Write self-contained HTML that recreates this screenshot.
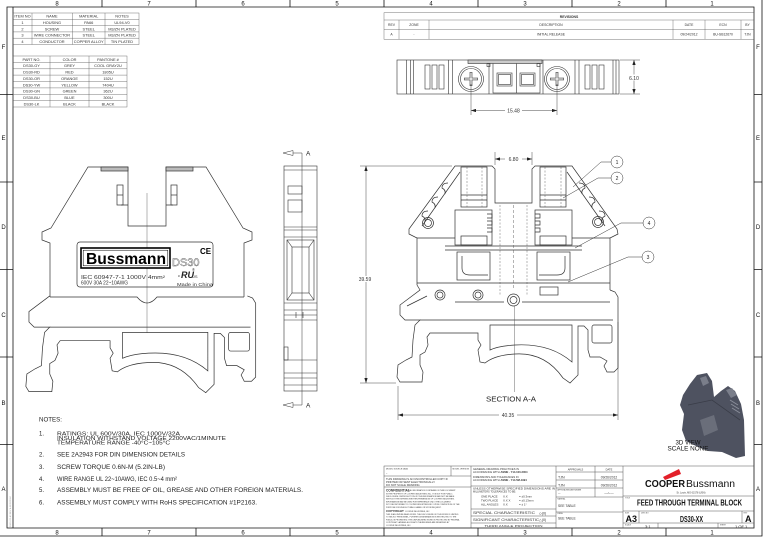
<!DOCTYPE html>
<html><head><meta charset="utf-8"><style>
html,body{margin:0;padding:0;background:#fff;}
svg{display:block;}
text{font-family:"Liberation Sans",Arial,sans-serif;}
</style></head><body>
<svg width="768" height="543" viewBox="0 0 768 543" xmlns="http://www.w3.org/2000/svg">
<defs>
<marker id="ar" viewBox="0 0 6 4" refX="6" refY="2" markerWidth="5" markerHeight="3.4" markerUnits="userSpaceOnUse" orient="auto-start-reverse"><path d="M0,0 L6,2 L0,4 z" fill="#222"/></marker>
</defs>
<rect width="768" height="543" fill="#fff"/>

<!-- FRAME -->
<g stroke="#111" stroke-width="0.8" fill="none">
<path d="M7,7 H754 V528 H7 Z"/>
<path d="M13,7 V528"/>
<path d="M762,0 V536 H0"/>
<path d="M102,0V7 M196,0V7 M290,0V7 M384,0V7 M478,0V7 M572,0V7 M666,0V7"/>
<path d="M102,528V536 M196,528V536 M290,528V536 M384,528V536 M478,528V536 M572,528V536 M666,528V536"/>
<path d="M0,94.5H13 M0,182H13 M0,269.5H13 M0,357H13 M0,444.5H13"/>
<path d="M754,94.5H762 M754,182H762 M754,269.5H762 M754,357H762 M754,444.5H762"/>
</g>
<g font-size="6" fill="#111" text-anchor="middle">
<text x="57" y="5.5">8</text><text x="149" y="5.5">7</text><text x="243" y="5.5">6</text><text x="337" y="5.5">5</text><text x="431" y="5.5">4</text><text x="525" y="5.5">3</text><text x="619" y="5.5">2</text><text x="712" y="5.5">1</text>
<text x="57" y="534.5">8</text><text x="149" y="534.5">7</text><text x="243" y="534.5">6</text><text x="337" y="534.5">5</text><text x="431" y="534.5">4</text><text x="525" y="534.5">3</text><text x="619" y="534.5">2</text><text x="712" y="534.5">1</text>
<text x="3.5" y="49">F</text><text x="3.5" y="140">E</text><text x="3.5" y="229">D</text><text x="3.5" y="317">C</text><text x="3.5" y="405">B</text><text x="3.5" y="491">A</text>
<text x="758" y="49">F</text><text x="758" y="140">E</text><text x="758" y="229">D</text><text x="758" y="317">C</text><text x="758" y="405">B</text><text x="758" y="491">A</text>
</g>
<text x="0" y="0" transform="translate(11,527) rotate(-90)" font-size="2.2" fill="#999">DS30-XX A3 REV A 09/26/2012</text>

<!-- ITEM TABLE -->
<g stroke="#555" stroke-width="0.4" fill="none">
<rect x="13" y="13" width="126" height="31.5"/>
<path d="M13,19.3H139 M13,25.6H139 M13,31.9H139 M13,38.2H139 M32,13V44.5 M72.5,13V44.5 M105,13V44.5"/>
<rect x="13" y="56" width="114" height="51"/>
<path d="M13,62.4H127 M13,68.8H127 M13,75.1H127 M13,81.5H127 M13,87.9H127 M13,94.3H127 M13,100.6H127 M50,56V107 M89,56V107"/>
</g>
<g font-size="3.9" fill="#333" text-anchor="middle">
<text x="22.5" y="17.7">ITEM NO</text><text x="52" y="17.7">NAME</text><text x="88.7" y="17.7">MATERIAL</text><text x="122" y="17.7">NOTES</text>
<text x="22.5" y="24">1</text><text x="52" y="24">HOUSING</text><text x="88.7" y="24">PA66</text><text x="122" y="24">UL94-V0</text>
<text x="22.5" y="30.3">2</text><text x="52" y="30.3">SCREW</text><text x="88.7" y="30.3">STEEL</text><text x="122" y="30.3">M3/ZN PLATED</text>
<text x="22.5" y="36.6">3</text><text x="52" y="36.6">WIRE CONNECTOR</text><text x="88.7" y="36.6">STEEL</text><text x="122" y="36.6">M3/ZN PLATED</text>
<text x="22.5" y="42.9">4</text><text x="52" y="42.9">CONDUCTOR</text><text x="88.7" y="42.9">COPPER ALLOY</text><text x="122" y="42.9">TIN PLATED</text>
<text x="31.5" y="60.8">PART NO.</text><text x="69.5" y="60.8">COLOR</text><text x="108" y="60.8">PANTONE #</text>
<text x="31.5" y="67.2">DS30-GY</text><text x="69.5" y="67.2">GREY</text><text x="108" y="67.2">COOL GRAY2U</text>
<text x="31.5" y="73.5">DS30-RD</text><text x="69.5" y="73.5">RED</text><text x="108" y="73.5">1805U</text>
<text x="31.5" y="79.9">DS30-OR</text><text x="69.5" y="79.9">ORANGE</text><text x="108" y="79.9">152U</text>
<text x="31.5" y="86.3">DS30-YW</text><text x="69.5" y="86.3">YELLOW</text><text x="108" y="86.3">7404U</text>
<text x="31.5" y="92.7">DS30-GN</text><text x="69.5" y="92.7">GREEN</text><text x="108" y="92.7">362U</text>
<text x="31.5" y="99">DS30-BU</text><text x="69.5" y="99">BLUE</text><text x="108" y="99">300U</text>
<text x="31.5" y="105.4">DS30-LK</text><text x="69.5" y="105.4">BLACK</text><text x="108" y="105.4">BLACK</text>
</g>

<!-- REVISIONS -->
<g stroke="#555" stroke-width="0.4" fill="none">
<rect x="384" y="12.7" width="370" height="26.6"/>
<path d="M384,20H754 M384,29.3H754 M399,20V39.3 M429,20V39.3 M673,20V39.3 M705,20V39.3 M741,20V39.3"/>
</g>
<g font-size="3.4" fill="#333" text-anchor="middle">
<text x="569" y="17.8" font-weight="bold">REVISIONS</text>
<text x="391.5" y="26">REV</text><text x="414" y="26">ZONE</text><text x="551" y="26">DESCRIPTION</text><text x="689" y="26">DATE</text><text x="723" y="26">ECN</text><text x="747.5" y="26">BY</text>
<text x="391.5" y="35.5">A</text><text x="414" y="35.5">-</text><text x="551" y="35.5">INITIAL RELEASE</text><text x="689" y="35.5">09/24/2012</text><text x="723" y="35.5">BU-SB12670</text><text x="747.5" y="35.5">TJN</text>
</g>

<!-- TOP VIEW -->
<g stroke="#333" stroke-width="0.6" fill="none">
<rect x="397" y="60" width="222" height="34"/>
<path d="M406.7,60V94 M410.7,60V94 M413.3,60V94 M448.3,60V94 M452.7,60V94 M489,60V94 M543,60V94 M575,60V94 M579,60V94 M613,60V94 M616,60V94"/>
<rect x="425" y="65" width="5" height="24"/><rect x="432" y="65" width="5" height="24"/><rect x="439" y="65" width="5" height="24"/>
<rect x="585" y="65" width="5" height="24"/><rect x="592" y="65" width="5" height="24"/><rect x="599" y="65" width="5" height="24"/>
<circle cx="471" cy="79" r="12.5"/><circle cx="471" cy="79" r="10.5"/>
<circle cx="557" cy="79" r="12.5"/><circle cx="557" cy="79" r="10.5"/>
<rect x="493" y="63" width="47" height="30" fill="#fff"/>
<path d="M516.5,63V93"/>
<rect x="497" y="73" width="15" height="13"/><rect x="498.5" y="74.5" width="12" height="10"/>
<rect x="520" y="73" width="15" height="13"/><rect x="521.5" y="74.5" width="12" height="10"/>
<rect x="468" y="60" width="74" height="3.5" fill="#ccc"/>
<rect x="487" y="63.5" width="3" height="3"/><rect x="537" y="63.5" width="3" height="3"/>
</g>
<g stroke="#333" stroke-width="2.6"><path d="M464,79H478 M471,72V86 M550,79H564 M557,72V86"/></g>
<g stroke="#fff" stroke-width="1.3"><path d="M464.5,79H477.5 M471,72.5V85.5 M550.5,79H563.5 M557,72.5V85.5"/></g>
<!-- top dims -->
<g stroke="#333" stroke-width="0.45" fill="none">
<path d="M620,60H640 M620,94H640"/>
<path d="M634,60V94" marker-start="url(#ar)" marker-end="url(#ar)"/>
<path d="M471,84V115 M557,84V115"/>
<path d="M471,110.5H557" marker-start="url(#ar)" marker-end="url(#ar)"/>
</g>
<rect x="627" y="74.5" width="14" height="6" fill="#fff"/>
<text x="634" y="79.8" font-size="5" fill="#333" text-anchor="middle">6.10</text>
<rect x="505" y="108" width="17" height="5.5" fill="#fff"/>
<text x="513.5" y="112.5" font-size="5" fill="#333" text-anchor="middle">15.48</text>

<!-- FRONT VIEW (upper) -->
<g stroke="#333" stroke-width="0.7" fill="none">
<path d="M50,297 L50,243 L42,240 L42,232 L51,228 L88,167 L128,167 L128,226 L166,226 L166,167 L206,167 L243,228 L252,232 L252,240 L244,243 L244,297"/>
<path d="M50,297 L137,297 Q147,309 157,297 L244,297"/>
<rect x="101" y="167" width="27" height="4" fill="#bbb"/>
<rect x="166" y="167" width="27" height="4" fill="#bbb"/>
<rect x="117" y="185" width="6" height="20"/><path d="M117,195H123"/>
<rect x="171" y="185" width="6" height="20"/><path d="M171,195H177"/>
<path d="M121,205H128 M166,205H173"/>
<rect x="77" y="242" width="136" height="45" rx="3"/>
</g>
<g transform="translate(-387.04,-5.64) scale(1.04)" stroke="#333" stroke-width="0.68" fill="none">
<path d="M610,290 L615,292 L618,297 L618,368 L614,372 L607,372 L604,366 L607,361 L600,357 L590,357 L588,350 L588,330 L584,326 L578,326 L578,375 L574,379 L570,383 L563,378 Q545,352 515,354 Q495,355 485,363 L480,362 L478,350 L481,345 L478,340 L478,333 L430,333 L427,337 L428,345 L425,352 L420,355 L420,365 L423,372 L422,382 L400,382 L397,377 L398,365 L406,360 L412,357 L413,340 L415,325 L420,320 L405,320 L400,315 L400,305 L420,290"/>
<path d="M490,325 L572,325 L572,362 Q550,343 515,345 Q498,346 490,350 Z"/>
<path d="M420,320 L613,320"/>
<rect x="592" y="325" width="20" height="18" rx="2"/>
</g>
<path d="M147,193V333" stroke="#444" stroke-width="0.4"/>
<rect x="81" y="248" width="89" height="20" fill="#fff" stroke="#000" stroke-width="1.6"/>
<rect x="83.2" y="250.2" width="84.6" height="15.6" fill="none" stroke="#000" stroke-width="0.5"/>
<text x="86" y="264" font-size="16" font-weight="bold" fill="#000" textLength="80" lengthAdjust="spacingAndGlyphs">Bussmann</text>
<text x="172" y="266" font-size="11" fill="#fff" stroke="#555" stroke-width="0.4">DS30</text>
<text x="200" y="254" font-size="8" font-weight="bold" fill="#000">CE</text>
<text x="81" y="279" font-size="5" fill="#333" textLength="84" lengthAdjust="spacingAndGlyphs">IEC 60947-7-1  1000V  4mm²</text>
<text x="81" y="284.5" font-size="5" fill="#333" textLength="47" lengthAdjust="spacingAndGlyphs">600V  30A  22~10AWG</text>
<text x="178" y="277" font-size="4" fill="#333">c</text>
<text x="181" y="278" font-size="9" font-weight="bold" font-style="italic" fill="#222">RU</text>
<text x="192" y="271" font-size="4" fill="#333">®</text>
<text x="192" y="278" font-size="4" fill="#333">US</text>
<text x="177" y="286" font-size="4.3" fill="#333" textLength="36" lengthAdjust="spacingAndGlyphs">Made in China</text>

<!-- SIDE VIEW -->
<g stroke="#333" stroke-width="0.6" fill="none">
<rect x="284" y="166" width="33" height="225"/>
<path d="M284,170H317 M284,227H317 M284,230H317 M284,237H317 M284,303H317 M284,310H317 M284,315H317 M284,320H317 M284,360H317 M284,373H317 M284,378H317 M284,385H317"/>
<rect x="288" y="186" width="14" height="8"/><rect x="288" y="200" width="14" height="12"/>
<rect x="287" y="240" width="27" height="60"/><rect x="292" y="247" width="17" height="46"/>
<path d="M287,240L292,247 M314,240L309,247 M287,300L292,293 M314,300L309,293"/>
<rect x="284" y="347" width="4" height="13"/>
<path d="M296,312V318 M303,312V318"/>
</g>
<g stroke="#333" stroke-width="0.5" fill="#fff">
<path d="M302,153V405" fill="none"/>
<path d="M293,153H302 M293,405H302" fill="none"/>
<polygon points="283,153 293,150.5 293,155.5"/>
<polygon points="283,405 293,402.5 293,407.5"/>
</g>
<text x="306" y="155.5" font-size="6.5" fill="#222">A</text>
<text x="306" y="407.5" font-size="6.5" fill="#222">A</text>

<!-- SECTION A-A -->
<g stroke="#333" stroke-width="0.7" fill="none">
<path d="M417,285 L417,238 L409,234 L409,229 L455,166 L492,166 L495,169 L495,203 L532,203 L532,169 L535,166 L572,166 L617,229 L618,234 L610,238 L610,290"/>
<path d="M610,290 L615,292 L618,297 L618,368 L614,372 L607,372 L604,366 L607,361 L600,357 L590,357 L588,350 L588,330 L584,326 L578,326 L578,375 L574,379 L570,383 L563,378 Q545,352 515,354 Q495,355 485,363 L480,362 L478,350 L481,345 L478,340 L478,333 L430,333 L427,337 L428,345 L425,352 L420,355 L420,365 L423,372 L422,382 L400,382 L397,377 L398,365 L406,360 L412,357 L413,340 L415,325 L420,320 L405,320 L400,315 L400,305 L420,290 L417,285"/>
<path d="M490,325 L572,325 L572,362 Q550,343 515,345 Q498,346 490,350 Z"/>
<path d="M420,320 L613,320 M407,306 L427,296 M455,302 L504,302 M522,302 L610,302 M417,283 L610,283"/>
<rect x="592" y="325" width="20" height="18" rx="2"/>
<path d="M460,172 L422,226 M567,172 L605,226"/>
<path d="M448,183 q-6,0 -6,5 q4,2 3,6 M438,197 q-6,0 -6,5 q4,2 3,6 M428,211 q-6,0 -6,5 q4,2 3,6"/>
<path d="M579,183 q6,0 6,5 q-4,2 -3,6 M589,197 q6,0 6,5 q-4,2 -3,6 M599,211 q6,0 6,5 q-4,2 -3,6"/>
<path d="M417,238 H455 M572,238 H610"/>
<rect x="455" y="210" width="37" height="35"/>
<rect x="535" y="210" width="37" height="35"/>
<rect x="461" y="236" width="26" height="9"/><rect x="540" y="236" width="26" height="9"/>
<path d="M487,214h5v4h-5 M487,221h5v4h-5 M487,228h5v4h-5 M535,214h5v4h-5 M535,221h5v4h-5 M535,228h5v4h-5"/>
<rect x="461" y="167" width="26" height="40"/><rect x="540" y="167" width="26" height="40"/>
<path d="M461,195H487 M461,200H487 M540,195H566 M540,200H566"/>
<path d="M445,246H582 M445,250H582"/>
<rect x="457" y="252" width="33" height="28"/>
<rect x="537" y="252" width="33" height="28"/>
<path d="M462,256 V268 Q462,275 470,275 H488 M565,256 V268 Q565,275 557,275 H539"/>
<rect x="540" y="287" width="18" height="8"/>
<circle cx="428" cy="223" r="5.5"/><circle cx="428" cy="223" r="3.5"/>
<circle cx="598" cy="222" r="5.5"/><circle cx="598" cy="222" r="3.5"/>
<circle cx="440" cy="295" r="5"/><circle cx="440" cy="295" r="3"/>
<circle cx="478" cy="295" r="5"/><circle cx="478" cy="295" r="3"/>
<circle cx="513.5" cy="300" r="6"/><circle cx="513.5" cy="300" r="3.5"/>
</g>
<g stroke="#444" stroke-width="0.4" fill="none">
<path d="M513.5,205V290" stroke-dasharray="3,2"/>
<path d="M467,167V207 M482,167V207 M545,167V207 M561,167V207 M500,205V295 M527,205V295" stroke-dasharray="2,1.5"/>
<path d="M514.5,306V392"/>
</g>
<!-- section dims -->
<g stroke="#333" stroke-width="0.45" fill="none">
<path d="M360,166H452 M360,383H396"/>
<path d="M366,166V383" marker-start="url(#ar)" marker-end="url(#ar)"/>
<path d="M495,152V165 M532,152V165"/>
<path d="M495,159H532" marker-start="url(#ar)" marker-end="url(#ar)"/>
<path d="M398,386V420 M618,322V420"/>
<path d="M398,415H618" marker-start="url(#ar)" marker-end="url(#ar)"/>
</g>
<rect x="356" y="276" width="18" height="6" fill="#fff"/>
<text x="365" y="281" font-size="5" fill="#333" text-anchor="middle">39.59</text>
<rect x="505" y="156" width="17" height="6" fill="#fff"/>
<text x="513.5" y="161" font-size="5" fill="#333" text-anchor="middle">6.80</text>
<rect x="499" y="412" width="18" height="6" fill="#fff"/>
<text x="508" y="417" font-size="5" fill="#333" text-anchor="middle">40.35</text>
<text x="511" y="401.5" font-size="7" fill="#222" text-anchor="middle" textLength="50" lengthAdjust="spacingAndGlyphs">SECTION A-A</text>

<!-- BALLOONS -->
<g stroke="#333" stroke-width="0.5" fill="#fff">
<path d="M611,162H601L573,187 M611,178H598L563,198 M643,223H621L575,248 M642,257H628L568,282" fill="none"/>
<circle cx="617" cy="162" r="6"/><circle cx="617" cy="178" r="6"/><circle cx="649" cy="223" r="6"/><circle cx="648" cy="257" r="6"/>
</g>
<g font-size="5" fill="#222" text-anchor="middle">
<text x="617" y="164">1</text><text x="617" y="180">2</text><text x="649" y="225">4</text><text x="648" y="259">3</text>
</g>

<!-- 3D VIEW -->
<path d="M683,395 L690,384 L697,375 L707,373 L712,381 L714,397 L721,391 L728,386 L735,391 L741,404 L744,420 L745,456 L736,458 L722,452 L708,451 L696,446 L686,441 L682,430 L684,414 L680,405 Z" fill="#4e5260"/>
<path d="M700,378 L706,376 L709,383 L703,386 Z M726,390 L732,388 L737,395 L731,398 Z" fill="#7a7e8a"/>
<path d="M730,400 L738,405 M731,404 L739,409 M732,408 L740,413" stroke="#8a8e9a" stroke-width="1"/>
<path d="M700,420 L714,415 L718,430 L704,436 Z" fill="#6a6e7a"/>
<path d="M688,405 L712,400 L740,420" stroke="#3a3d48" stroke-width="0.8" fill="none"/>
<text x="688" y="444.5" font-size="6" fill="#111" text-anchor="middle" textLength="25" lengthAdjust="spacingAndGlyphs">3D VIEW</text>
<text x="688" y="450.5" font-size="6" fill="#111" text-anchor="middle" textLength="41" lengthAdjust="spacingAndGlyphs">SCALE NONE</text>

<!-- NOTES -->
<g font-size="6" fill="#222">
<text x="39" y="421.5" textLength="23" lengthAdjust="spacingAndGlyphs">NOTES:</text>
<text x="39" y="435.5">1.</text>
<text x="57" y="435.5" font-size="5.6" textLength="123" lengthAdjust="spacingAndGlyphs">RATINGS: UL 600V/30A, IEC 1000V/32A</text>
<text x="57" y="440" font-size="5.6" textLength="169" lengthAdjust="spacingAndGlyphs">INSULATION WITHSTAND VOLTAGE 2200VAC/1MINUTE</text>
<text x="57" y="444.3" font-size="5.6" textLength="113" lengthAdjust="spacingAndGlyphs">TEMPERATURE RANGE -40°C~105°C</text>
<text x="39" y="456.3">2.</text>
<text x="57" y="456.3" textLength="128" lengthAdjust="spacingAndGlyphs">SEE 2A2943 FOR DIN DIMENSION DETAILS</text>
<text x="39" y="468.8">3.</text>
<text x="57" y="468.8" textLength="108" lengthAdjust="spacingAndGlyphs">SCREW TORQUE 0.6N-M (5.2IN-LB)</text>
<text x="39" y="481.2">4.</text>
<text x="57" y="481.2" textLength="120" lengthAdjust="spacingAndGlyphs">WIRE RANGE UL 22~10AWG, IEC 0.5~4 mm²</text>
<text x="39" y="492">5.</text>
<text x="57" y="492" textLength="246" lengthAdjust="spacingAndGlyphs">ASSEMBLY MUST BE FREE OF OIL, GREASE AND OTHER FOREIGN MATERIALS.</text>
<text x="39" y="504.5">6.</text>
<text x="57" y="504.5" textLength="200" lengthAdjust="spacingAndGlyphs">ASSEMBLY MUST COMPLY WITH RoHS SPECIFICATION #1P2163.</text>
</g>

<!-- TITLE BLOCK -->
<g stroke="#444" stroke-width="0.45" fill="none">
<rect x="384" y="466" width="370" height="62"/>
<path d="M471,466V528 M556,466V528 M623,466V528"/>
<path d="M384,476H471 M384,487H471 M451,466V476"/>
<path d="M471,486H556 M471,509H556 M471,516H556 M471,523H556"/>
<path d="M556,472H623 M556,480H623 M556,488H623 M556,497H623 M556,512H623 M595,466V497"/>
<path d="M623,496H754 M623,511H754 M623,523H754 M639,511V523 M742,511V523 M658,523V528 M718,523V528"/>
</g>
<g fill="#333">
<text x="386" y="469.5" font-size="2">MODEL SOURCE DATA</text>
<text x="386" y="474" font-size="2">--</text>
<text x="452.5" y="469.5" font-size="2">MODEL VERSION</text>
<text x="386" y="480" font-size="2.7" textLength="62" lengthAdjust="spacingAndGlyphs">THIS DRAWING IS AN UNCONTROLLED COPY IF</text>
<text x="386" y="482.9" font-size="2.7">PRINTED OR SENT ELECTRONICALLY.</text>
<text x="386" y="485.8" font-size="2.7">DO NOT SCALE DRAWING</text>
<text x="386" y="491.5" font-size="3.2" font-weight="bold">CONFIDENTIAL</text>
<g font-size="1.9">
<text x="408" y="491.2">THE INFORMATION CONTAINED IN THIS DOCUMENT</text>
<text x="386" y="494.3">IS THE PROPERTY OF COOPER INDUSTRIES, INC. IT IS NOT FOR PUBLIC</text>
<text x="386" y="497">DISCLOSURE. REPRODUCTION OF THIS INFORMATION MAY NOT BE MADE</text>
<text x="386" y="499.7">WITHOUT THE EXPRESS WRITTEN PERMISSION OF COOPER INDUSTRIES.</text>
<text x="386" y="502.4">INFORMATION MAY BE USED FOR REFERENCE ONLY. THE DOCUMENT</text>
<text x="386" y="505.1">IS TO BE RETURNED TO COOPER INDUSTRIES INC. UPON COMPLETION OF THE</text>
<text x="386" y="507.8">PURPOSE FOR WHICH IT WAS LOANED OR UPON REQUEST.</text>
<text x="405" y="512">COOPER INDUSTRIES, INC</text>
<text x="386" y="515">THIS IS AN UNPUBLISHED WORK. THE DISCLOSURE OF THIS WORK IS LIMITED</text>
<text x="386" y="517.7">TO SELECT PERSONNEL. FURTHER DISSEMINATION IS RESTRICTED TO THE</text>
<text x="386" y="520.4">PUBLIC IS PROHIBITED. THIS UNPUBLISHED WORK IS PROTECTED BY FEDERAL</text>
<text x="386" y="523.1">COPYRIGHT LAW AND ALL RIGHTS THEREUNDER ARE RESERVED BY</text>
<text x="386" y="525.8">COOPER INDUSTRIES, INC.</text>
</g>
<text x="386" y="512.2" font-size="3" font-weight="bold">COPYRIGHT</text>
<g font-size="2.7">
<text x="473" y="469.8">GENERAL DRAWING PRACTICES IN</text>
<text x="473" y="473.2">ACCORDANCE WITH <tspan font-weight="bold">ASME - Y14.100-2004</tspan></text>
<text x="473" y="477.8">DIMENSIONS AND TOLERANCES IN</text>
<text x="473" y="481.2">ACCORDANCE WITH <tspan font-weight="bold">ASME - Y14.5M-1994</tspan></text>
<text x="473" y="489.3" font-size="2.5" textLength="82" lengthAdjust="spacingAndGlyphs">UNLESS OTHERWISE SPECIFIED DIMENSIONS ARE IN</text>
<text x="473" y="492.6" font-size="2.5">MILLIMETERS TOLERANCES TO BE:</text>
</g>
<g font-size="2.9">
<text x="481" y="497.3">ONE PLACE</text><text x="503" y="497.3">X.X</text><text x="519" y="497.3">= ±0.3mm</text>
<text x="481" y="501.3">TWO PLACE</text><text x="503" y="501.3">X.X X</text><text x="519" y="501.3">= ±0.13mm</text>
<text x="481" y="505.3">ALL ANGLES</text><text x="503" y="505.3">X.X</text><text x="519" y="505.3">= ± 1°</text>
</g>
<text x="473" y="514.2" font-size="3.2" textLength="62" lengthAdjust="spacingAndGlyphs">SPECIAL CHARACTERISTIC</text>
<text x="539" y="514.4" font-size="3.6">◇(0)</text>
<text x="473" y="521" font-size="3.2" textLength="66" lengthAdjust="spacingAndGlyphs">SIGNIFICANT CHARACTERISTIC</text>
<text x="539" y="521.2" font-size="3.6">△(0)</text>
<text x="513.5" y="527" font-size="3" text-anchor="middle" textLength="58" lengthAdjust="spacingAndGlyphs">THIRD ANGLE PROJECTION</text>
<text x="575.5" y="470.6" font-size="2.6" text-anchor="middle">APPROVALS</text>
<text x="609" y="470.6" font-size="2.6" text-anchor="middle">DATE</text>
<text x="558" y="478.3" font-size="3.6">TJN</text>
<text x="609" y="478.3" font-size="3.3" text-anchor="middle">09/26/2012</text>
<text x="558" y="486.3" font-size="3.6">TJN</text>
<text x="609" y="486.3" font-size="3.3" text-anchor="middle">09/26/2012</text>
<text x="557.5" y="490.3" font-size="1.6">APPROVAL/RELEASE NUMBER</text>
<text x="558" y="494.5" font-size="2.4">---</text>
<text x="609" y="494" font-size="3" text-anchor="middle">~~/~~~</text>
<text x="557.5" y="499.3" font-size="1.6">MATERIAL</text>
<text x="558" y="507" font-size="3.3">SEE TABLE</text>
<text x="557.5" y="514" font-size="1.6">FINISH</text>
<text x="558" y="519.5" font-size="3.3">SEE TABLE</text>
</g>
<polygon points="663,477 679,469 681,474 665,480" fill="#e3202a"/>
<text x="645" y="487" font-size="10" font-weight="bold" fill="#111" textLength="40" lengthAdjust="spacingAndGlyphs">COOPER</text>
<text x="686" y="487" font-size="10" fill="#111" textLength="49" lengthAdjust="spacingAndGlyphs">Bussmann</text>
<text x="691" y="493.3" font-size="2.4" fill="#333" text-anchor="middle">St. Louis, MO 63178 (USA)</text>
<g font-size="1.8" fill="#444">
<text x="625" y="498.5">TITLE</text>
<text x="625" y="513.5">SIZE</text>
<text x="641" y="513.5">DWG NO</text>
<text x="743.5" y="513.5">REV</text>
<text x="625" y="525.5">SCALE</text>
<text x="720" y="525.5">SHEET</text>
</g>
<text x="637" y="505.5" font-size="8" font-weight="bold" fill="#111" textLength="105" lengthAdjust="spacingAndGlyphs">FEED THROUGH TERMINAL BLOCK</text>
<text x="625.5" y="522" font-size="9" font-weight="bold" fill="#111" textLength="11.5" lengthAdjust="spacingAndGlyphs">A3</text>
<text x="680" y="522" font-size="8.5" font-weight="bold" fill="#111" textLength="23" lengthAdjust="spacingAndGlyphs">DS30-XX</text>
<text x="745" y="522" font-size="9" font-weight="bold" fill="#111">A</text>
<text x="645" y="527.8" font-size="4" fill="#222">3:1</text>
<text x="735" y="527.8" font-size="4" fill="#222">1 OF 1</text>
</svg>
</body></html>
